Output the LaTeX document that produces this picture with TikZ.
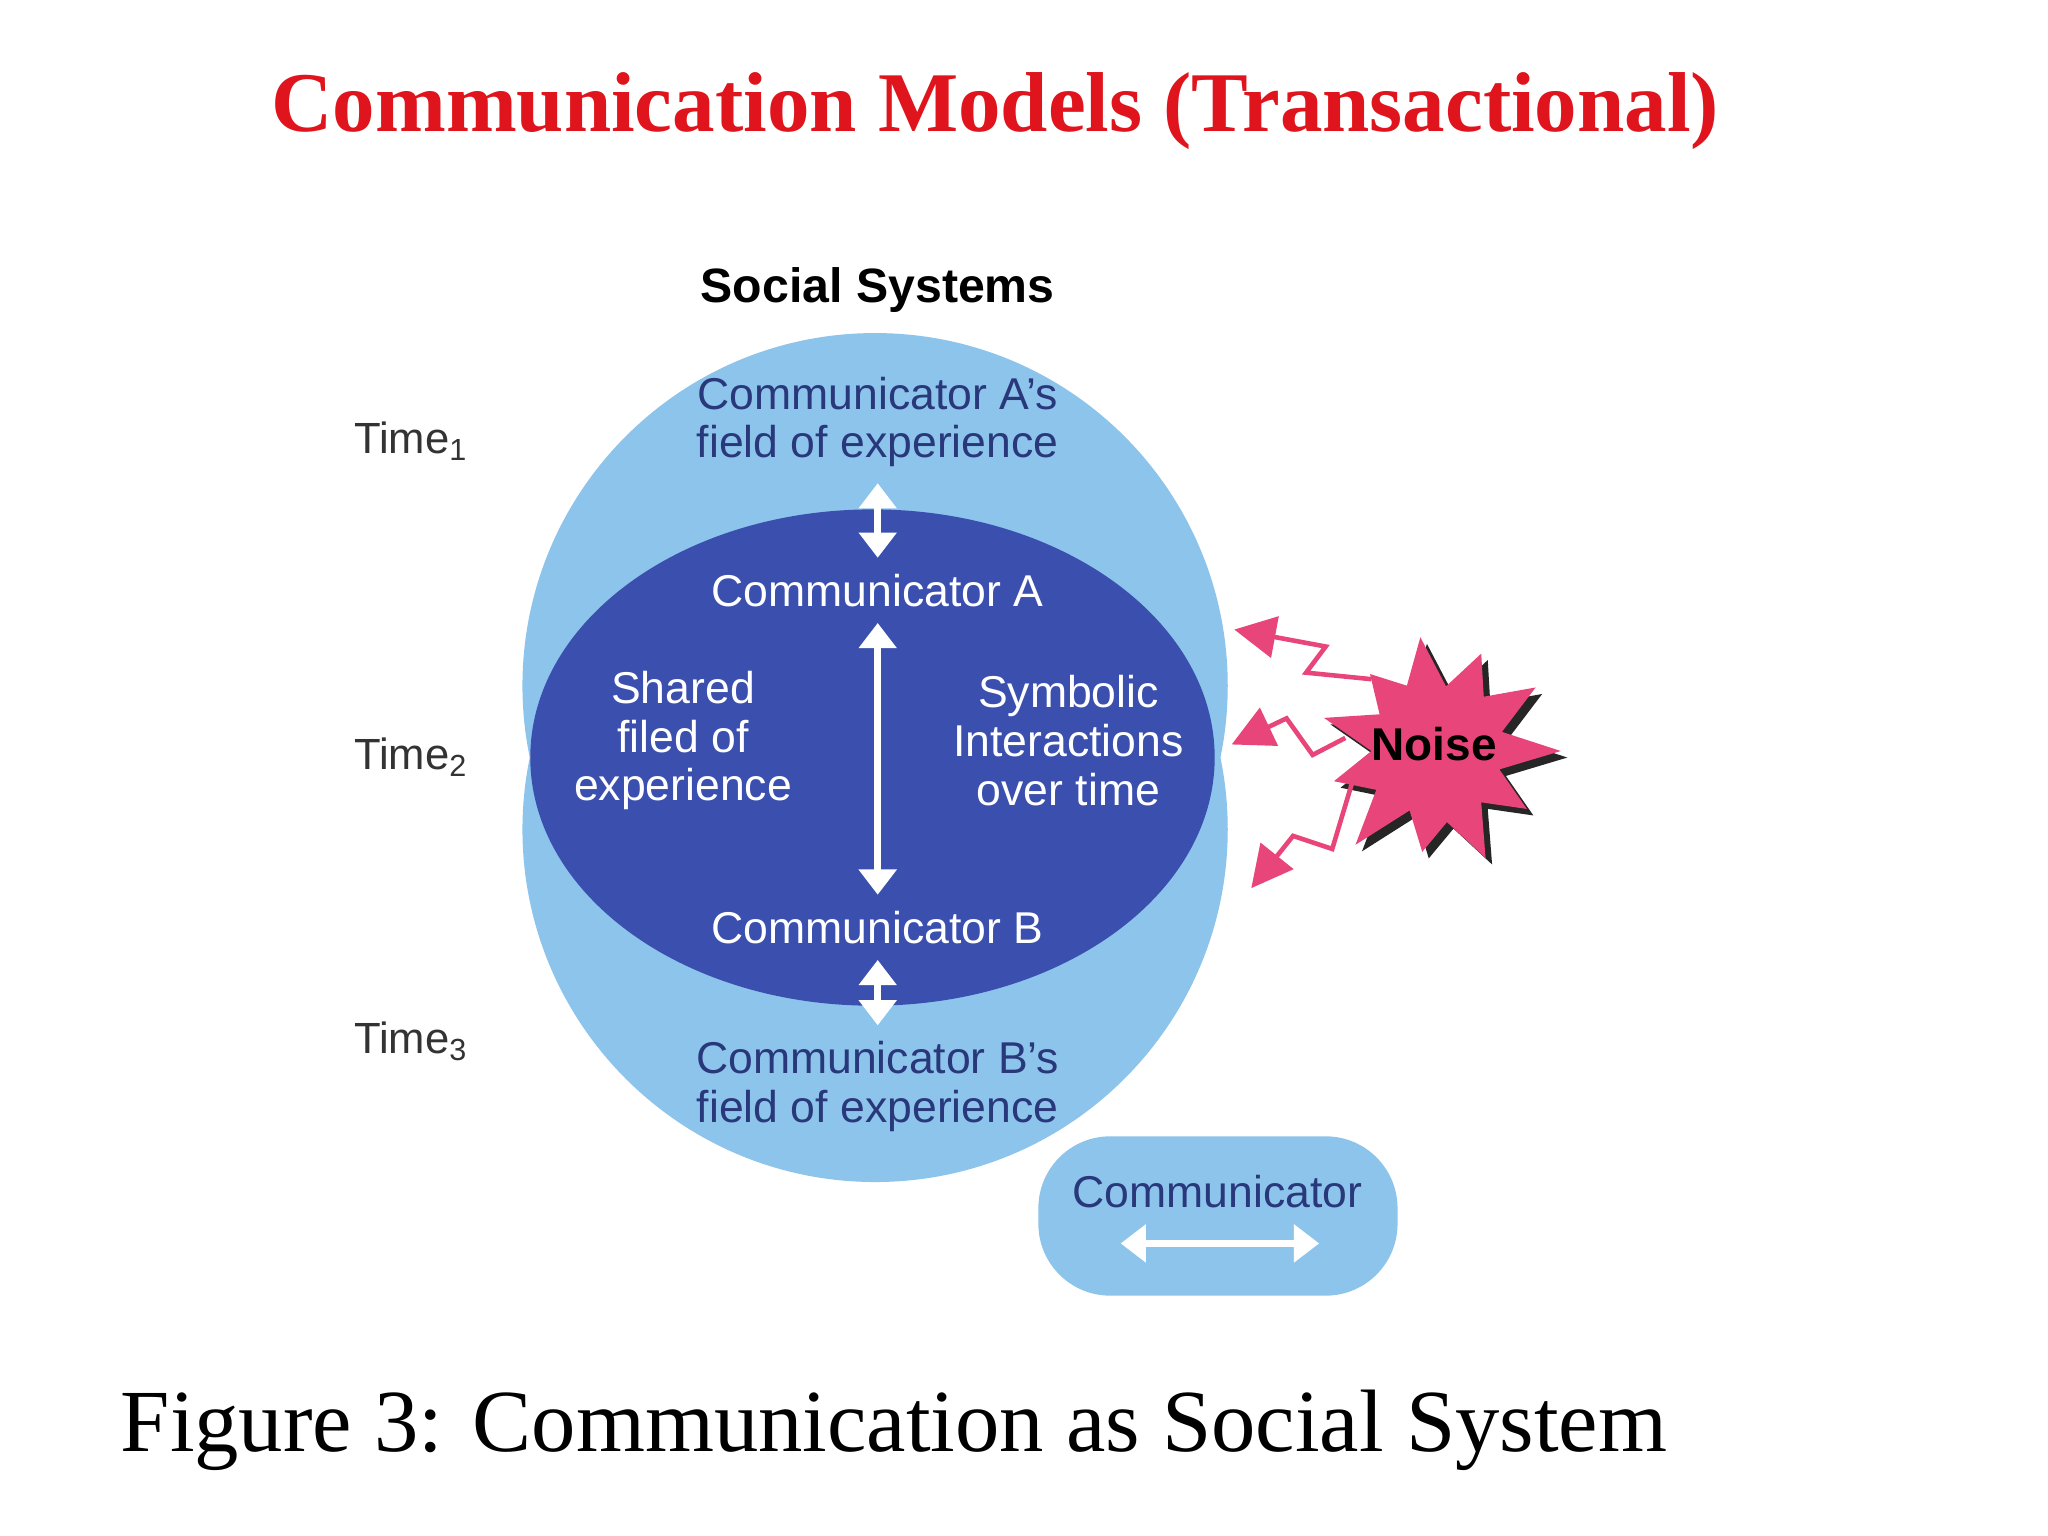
\documentclass[tikz,border=0pt]{standalone}
\usepackage{fontspec}
\setmainfont{Liberation Sans}
\newfontfamily\serif{Liberation Serif}
\usetikzlibrary{arrows.meta}
\definecolor{lightb}{HTML}{8DC4EC}
\definecolor{darkb}{HTML}{3B50AE}
\definecolor{noisec}{HTML}{E8457A}
\definecolor{titred}{HTML}{E0141C}
\tikzset{
  wtxt/.style={text=white,font=\fontsize{9.7}{10.6}\selectfont,align=center},
  dtxt/.style={text=darkb!70!black,font=\fontsize{9.7}{10.6}\selectfont,align=center},
  warr/.style={white,line width=1.5pt,{Triangle[width=8pt,length=5.5pt]}-{Triangle[width=8pt,length=5.5pt]}},
  zig/.style={noisec,line width=1pt,-{Triangle[width=9pt,length=9pt]}},
  tlab/.style={font=\fontsize{9.5}{11}\selectfont,text=black!80}
}
\def\starpath{(0:95) \foreach \i/\r in {1/50,2/82,3/52,4/90,5/55,6/78,7/50,8/95,9/55,10/82,11/50,12/90,13/52,14/78,15/55,16/88,17/50,18/82,19/55,20/90,21/52} {-- (\i*360/22:\r)} -- cycle}
\begin{document}
\begin{tikzpicture}[x=0.01cm,y=-0.01cm]
\useasboundingbox (0,0) rectangle (1568,1176);
\fill[white] (0,0) rectangle (1568,1176);
\node (title) at (762,85) {\serif\bfseries\fontsize{18.5}{22}\selectfont\color{titred}Communication Models (Transactional)};
\node (ss) at (672,222) {\bfseries\fontsize{10.5}{12}\selectfont Social Systems};
\fill[lightb] (670,525) circle (270);
\fill[lightb] (670,635) circle (270);
\fill[darkb] (668,580) ellipse (262 and 190);
\node[dtxt] (fa) at (672,323) {Communicator A's\\field of experience};
\node[dtxt] (fb) at (672,832) {Communicator B's\\field of experience};
\node[wtxt] (ca) at (672,452) {Communicator A};
\node[wtxt] (cb) at (672,710) {Communicator B};
\node[wtxt] (sh) at (523,567) {Shared\\filed of\\experience};
\node[wtxt] (sy) at (818,567) {Symbolic\\Interactions\\over time};
\draw[warr] (fa.south) -- (ca.north);
\draw[warr] (ca.south) -- (cb.north);
\draw[warr] (cb.south) -- (fb.north);
\node[tlab] (t1) at (315,338) {Time\textsubscript{1}};
\node[tlab] (t2) at (315,580) {Time\textsubscript{2}};
\node[tlab] (t3) at (315,797) {Time\textsubscript{3}};
% noise
\fill[black!85,shift={(1105,580)}] \starpath;
\fill[noisec,shift={(1100,575)}] \starpath;
\node[font=\bfseries\fontsize{10}{11}\selectfont] (noise) at (1098,570) {Noise};
\coordinate (z1) at (945,482);
\coordinate (z2) at (943,570);
\coordinate (z3) at (958,680);
\draw[zig] (1050,520) -- (1000,515) -- (1015,495) -- (z1);
\draw[zig] (1030,565) -- (1005,578) -- (985,550) -- (z2);
\draw[zig] (1035,600) -- (1020,650) -- (990,640) -- (z3);
% legend
\fill[lightb,rounded corners=0.55cm] (795,870) rectangle (1070,992);
\node[dtxt] (lc) at (932,912) {Communicator};
\coordinate (la) at (858,952);
\coordinate (lb) at (1010,952);
\draw[warr] (la) -- (lb);
\node[anchor=west] (cap) at (80,1095) {\serif\fontsize{19.3}{24}\selectfont Figure 3: Communication as Social System};
\end{tikzpicture}
\end{document}
